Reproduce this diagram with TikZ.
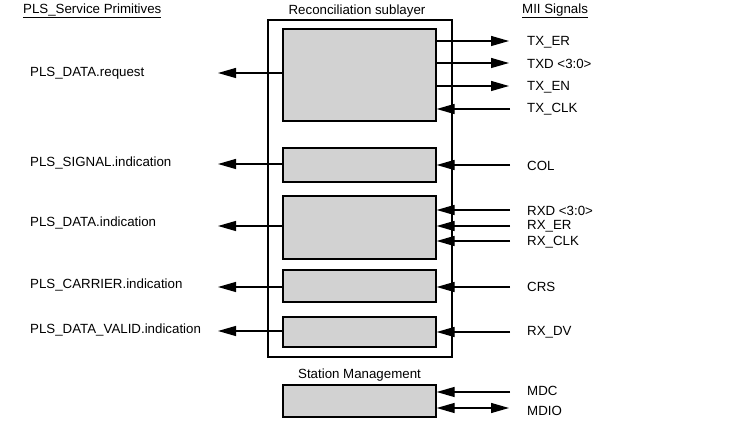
\documentclass[tikz,border=0pt]{standalone}
\usepackage{fontspec}
\setmainfont{Liberation Sans}
\usetikzlibrary{arrows.meta}

\begin{document}
\begin{tikzpicture}[x=1pt, y=-1pt, font=\fontsize{13.3}{15}\selectfont,
  blk/.style={draw, line width=1.3pt, fill=gray!35},
  sig/.style={line width=1.3pt, -{Triangle[length=18pt,width=10pt]}},
  lbl/.style={anchor=west, inner sep=0pt}]
  \useasboundingbox (0,0) rectangle (736,438);

  % headers
  \node[lbl] (hpls) at (23,11) {\underline{PLS\_Service Primitives}};
  \node (hrs) at (357,11) {Reconciliation sublayer};
  \node[lbl] (hmii) at (522,11) {\underline{MII Signals}};

  % boxes
  \draw[line width=1.3pt] (268,20) rectangle (452,357);
  \node[blk, minimum width=153pt, minimum height=92pt] (tx) at (359.5,75) {};
  \node[blk, minimum width=153pt, minimum height=34pt] (col) at (359.5,165) {};
  \node[blk, minimum width=153pt, minimum height=63pt] (rx) at (359.5,227.5) {};
  \node[blk, minimum width=153pt, minimum height=32pt] (crs) at (359.5,286) {};
  \node[blk, minimum width=153pt, minimum height=30pt] (dv) at (359.5,332) {};
  \node (hsm) at (359.5,375) {Station Management};
  \node[blk, minimum width=153pt, minimum height=32pt] (sm) at (359.5,401) {};

  % service primitives
  \node[lbl] (p1) at (30,73) {PLS\_DATA.request};
  \node[lbl] (p2) at (30,163) {PLS\_SIGNAL.indication};
  \node[lbl] (p3) at (30,223) {PLS\_DATA.indication};
  \node[lbl] (p4) at (30,285) {PLS\_CARRIER.indication};
  \node[lbl] (p5) at (30,330) {PLS\_DATA\_VALID.indication};
  \coordinate (q1) at (218,73);
  \coordinate (q2) at (218,164);
  \coordinate (q3) at (218,226);
  \coordinate (q4) at (218,287);
  \coordinate (q5) at (218,331);
  \draw[sig] (tx.west |- q1) -- (q1);
  \draw[sig] (col.west |- q2) -- (q2);
  \draw[sig] (rx.west |- q3) -- (q3);
  \draw[sig] (crs.west |- q4) -- (q4);
  \draw[sig] (dv.west |- q5) -- (q5);

  % MII signals
  \node[lbl] (s1) at (527,42) {TX\_ER};
  \node[lbl] (s2) at (527,64) {TXD <3:0>};
  \node[lbl] (s3) at (527,87) {TX\_EN};
  \node[lbl] (s4) at (527,109) {TX\_CLK};
  \node[lbl] (s5) at (527,166) {COL};
  \node[lbl] (s6) at (527,211) {RXD <3:0>};
  \node[lbl] (s7) at (527,226) {RX\_ER};
  \node[lbl] (s8) at (527,242) {RX\_CLK};
  \node[lbl] (s9) at (527,287) {CRS};
  \node[lbl] (s10) at (527,332) {RX\_DV};
  \node[lbl] (s11) at (527,391) {MDC};
  \node[lbl] (s12) at (527,411) {MDIO};
  \foreach \s/\b/\y in {s1/tx/41, s2/tx/63, s3/tx/86}
    \draw[sig] (\b.east |- 0,\y) -- (509,\y);
  \foreach \s/\b/\y in {s4/tx/109, s5/col/165, s6/rx/210, s7/rx/226, s8/rx/241, s9/crs/287, s10/dv/332, s11/sm/392}
    \draw[sig] (510,\y) -- (\b.east |- 0,\y);
  \draw[sig, {Triangle[length=18pt,width=10pt]}-{Triangle[length=18pt,width=10pt]}] (sm.east |- 0,408) -- (509,408);
\end{tikzpicture}
\end{document}
